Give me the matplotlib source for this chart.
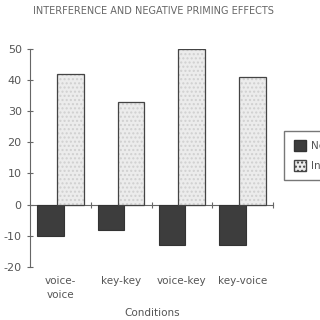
import numpy as np
import matplotlib.pyplot as plt
from matplotlib.patches import Patch

plt.rcParams['axes.unicode_minus'] = False

conditions = ['voice-\nvoice', 'key-key', 'voice-key', 'key-voice']
negative_priming = [-10, -8, -13, -13]
interference = [42, 33, 50, 41]

txt = '#555555'
dark = '#3d3d3d'
light = '#ececec'

fig = plt.figure(figsize=(3.2, 3.2), dpi=100)
ax = fig.add_axes([0.094, 0.166, 0.759, 0.681])

x = np.arange(len(conditions)) + 0.5
w = 0.44
ax.bar(x - 0.165, negative_priming, w, color=dark, edgecolor='#333333', linewidth=0.8, zorder=3)
ax.bar(x + 0.16, interference, w, color=light, edgecolor='#d0d0d0', hatch='....', linewidth=0, zorder=3)
ax.bar(x + 0.16, interference, w, color='none', edgecolor='#444444', linewidth=0.9, zorder=4)

ax.set_xlim(0, 4)
ax.set_ylim(-20, 50)
ax.set_yticks(range(-20, 51, 10))
ax.set_xticks([1, 2, 3, 4])
ax.set_xticklabels([])
for s in ['top', 'right']:
    ax.spines[s].set_visible(False)
ax.spines['bottom'].set_position(('data', 0))
ax.spines['left'].set_color('#666666')
ax.spines['bottom'].set_color('#666666')
ax.tick_params(axis='y', direction='inout', length=4, colors='#666666', labelcolor=txt, labelsize=8, pad=4)
ax.tick_params(axis='x', direction='inout', length=4, colors='#666666')

for xi, lab in zip(x, conditions):
    ax.text(xi, -23, lab, ha='center', va='top', fontsize=7.5, color=txt, linespacing=1.5, clip_on=False)

fig.text(0.475, 0.022, 'Conditions', ha='center', va='center', fontsize=7.5, color=txt)
fig.text(0.48, 0.965, 'INTERFERENCE AND NEGATIVE PRIMING EFFECTS', ha='center', va='center', fontsize=7, color='#666666')

handles = [Patch(facecolor=dark, edgecolor='#333333'),
           Patch(facecolor=light, edgecolor='#444444', hatch='....')]
leg = fig.legend(handles, ['Negative priming', 'Interference'], loc='upper left',
                 bbox_to_anchor=(0.888, 0.592), borderaxespad=0, fontsize=7.5, frameon=True, fancybox=False,
                 handlelength=1.2, handleheight=1.2, borderpad=0.9, labelspacing=0.9, handletextpad=0.5)
leg.get_frame().set_edgecolor('#555555')
for t in leg.get_texts():
    t.set_color(txt)

fig.savefig('out.png', dpi=100)
